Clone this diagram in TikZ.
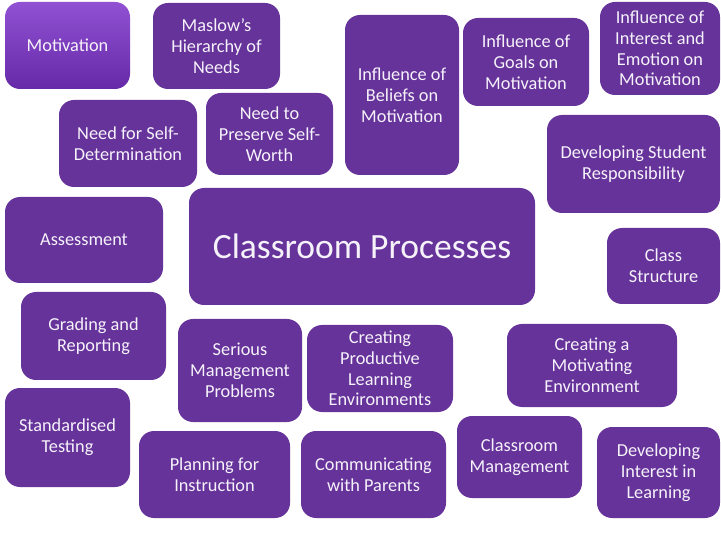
\documentclass[tikz,border=0pt]{standalone}
\usepackage{fontspec}
\setmainfont{Carlito}
\usepackage{tikz}
\usetikzlibrary{positioning, calc}
\definecolor{boxPurple}{HTML}{66339A}
\definecolor{motivTop}{HTML}{9052D2}
\definecolor{motivMid}{HTML}{7A38C2}
\definecolor{motivBottom}{HTML}{6629A8}
\definecolor{textWhite}{HTML}{F6F2FA}
\tikzset{
    % Common
    topicBox/.style={
        rectangle, rounded corners=15pt, draw=none, fill=boxPurple,
        text=textWhite, align=center, inner sep=0pt,
        font=\fontsize{18.3}{20.8}\selectfont
    },
    activeBox/.style={topicBox, fill=none,
        top color=motivTop, middle color=motivMid, bottom color=motivBottom},
    mainBox/.style={topicBox, font=\fontsize{35.5}{42}\selectfont}
}
\newcommand{\TopicBox}[6][topicBox]{
    \node[#1, minimum width=#4pt, minimum height=#5pt] (#2) at #3 {#6};
}
\begin{document}
\begin{tikzpicture}[x=1pt, y=-1pt]
        \useasboundingbox (0,0) rectangle (721,540);

        % Top row
        \TopicBox[activeBox]{motivation}{(67.5,45.5)}{125}{87}{Motivation}
        \TopicBox{maslow}{(216.5,46)}{127}{86}{Maslow’s\\Hierarchy of\\Needs}
        \TopicBox{beliefs}{(402,95)}{114}{160}{Influence of\\Beliefs on\\Motivation}
        \TopicBox{goals}{(526,62)}{126}{88}{Influence of\\Goals on\\Motivation}
        \TopicBox{interest}{(660,48.5)}{120}{93}{Influence of\\Interest and\\Emotion on\\Motivation}

        % Needs
        \TopicBox{selfDet}{(128,143.5)}{138}{87}{Need for Self-\\Determination}
        \TopicBox{selfWorth}{(269.5,134)}{127}{82}{Need to\\Preserve Self-\\Worth}
        \TopicBox{responsibility}{(633.5,164)}{173}{98}{Developing Student\\Responsibility}

        % Centre
        \TopicBox[mainBox]{processes}{(362,246.5)}{346}{117}{Classroom Processes}
        \TopicBox{assessment}{(84,240)}{158}{86}{Assessment}
        \TopicBox{structure}{(663.5,266)}{113}{76}{Class\\Structure}

        % Lower rows
        \TopicBox{grading}{(93.5,336)}{145}{88}{Grading and\\Reporting}
        \TopicBox{serious}{(240,370.5)}{124}{103}{Serious\\Management\\Problems}
        \TopicBox{productive}{(380,368.5)}{146}{87}{Creating\\Productive\\Learning\\Environments}
        \TopicBox{motivEnv}{(592,365.5)}{170}{83}{Creating a\\Motivating\\Environment}
        \TopicBox{standardised}{(67.5,437.5)}{125}{99}{Standardised\\Testing}
        \TopicBox{planning}{(214.5,474.5)}{151}{87}{Planning for\\Instruction}
        \TopicBox{parents}{(373.5,474.5)}{145}{87}{Communicating\\with Parents}
        \TopicBox{management}{(519.5,457)}{125}{82}{Classroom\\Management}
        \TopicBox{devInterest}{(658.5,472.5)}{123}{91}{Developing\\Interest in\\Learning}
    \end{tikzpicture}
\end{document}
